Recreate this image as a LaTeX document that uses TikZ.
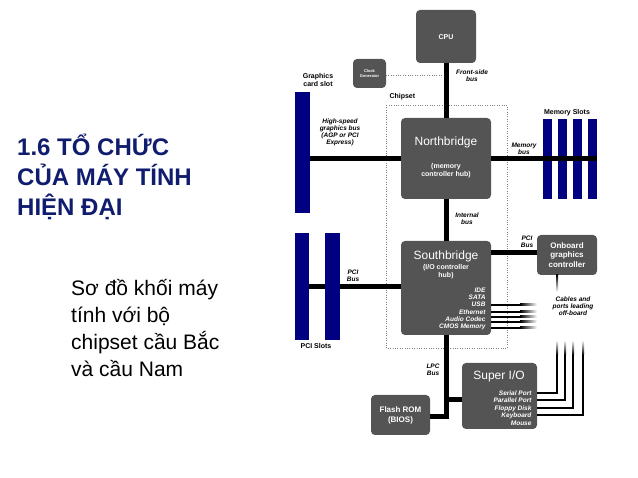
\documentclass[tikz,border=0pt]{standalone}
\usepackage{fontspec}
\setmainfont{Liberation Sans}
\begin{document}
\begin{tikzpicture}[x=1pt,y=-1pt,
  box/.style={fill=black!67,rounded corners=4pt,draw=none,text=white},
  slot/.style={fill=blue!50!black,draw=none},
  bus/.style={line width=5pt},
  thin/.style={line width=2pt},
  lab/.style={font=\fontsize{6.5}{7}\selectfont\itshape\bfseries,align=center},
  slab/.style={font=\fontsize{7}{8}\selectfont\bfseries,align=center}]
\useasboundingbox (0,0) rectangle (638,478);
% chipset region
\draw[dotted,gray] (386,105) rectangle (507,348);
\node[slab,anchor=west] (chip) at (386,97) {Chipset};
% boxes
\path[box] (416,10) rectangle (476,63); \node[text=white,slab] (cpu) at (446,37) {CPU};
\coordinate (cpub) at (446,63);
\path[box] (353,59) rectangle (386,88);
\node[text=white,font=\fontsize{4}{5}\selectfont\bfseries,align=center] (clk) at (369.5,73.5) {Clock\\Generator};
\draw[dotted,gray] (386,75) -- (446,75);
\path[box] (401,118) rectangle (491,199);
\node[text=white,font=\fontsize{12}{13}\selectfont] (nb) at (446,142) {Northbridge};
\node[text=white,font=\fontsize{7}{8}\selectfont\bfseries,align=center] (nbs) at (446,171) {(memory\\controller hub)};
\path[box] (401,241) rectangle (491,335);
\node[text=white,font=\fontsize{12}{13}\selectfont] (sb) at (446,256) {Southbridge};
\node[text=white,font=\fontsize{7}{8}\selectfont\bfseries,align=center] (sbs) at (446,272) {(I/O controller\\hub)};
\node[text=white,font=\fontsize{6.5}{7.3}\selectfont\itshape\bfseries,align=right,anchor=east] (sbl) at (489,309) {IDE\\SATA\\USB\\Ethernet\\Audio Codec\\CMOS Memory};
\path[box] (537,235) rectangle (597,275);
\node[text=white,font=\fontsize{8}{9.5}\selectfont\bfseries,align=center] (og) at (567,255) {Onboard\\graphics\\controller};
\path[box] (462,363) rectangle (537,429);
\node[text=white,font=\fontsize{12}{13}\selectfont] (sio) at (499,376) {Super I/O};
\node[text=white,font=\fontsize{6.5}{7.4}\selectfont\itshape\bfseries,align=right,anchor=east] (siol) at (535,408) {Serial Port\\Parallel Port\\Floppy Disk\\Keyboard\\Mouse};
\path[box] (371,395) rectangle (430,435);
\node[text=white,font=\fontsize{8}{10}\selectfont\bfseries,align=center] (fr) at (400.5,415) {Flash ROM\\(BIOS)};
% slots
\path[slot] (295,92) rectangle (310,213);
\foreach \x in {543,558,573,588} \path[slot] (\x,119) rectangle (\x+9,199);
\path[slot] (295,233) rectangle (309,340);
\path[slot] (325,233) rectangle (340,340);
% buses
\draw[bus] (446,63) -- (446,118);
\draw[bus] (446,199) -- (446,241);
\draw[bus] (310,159) -- (401,159);
\draw[bus] (491,159) -- (597,159);
\draw[bus] (309,287) -- (325,287) (340,287) -- (401,287);
\draw[bus] (491,253) -- (537,253);
\draw[bus] (446,335) -- (446,417) -- (430,417);
\draw[bus] (446,400) -- (462,400);
% cables
\foreach \y in {305,312,317,322,328} \draw[thin] (491,\y) -- (520,\y);
\foreach \y in {305,312,317,322,328} \shade[left color=black,right color=white] (520,\y-1) rectangle (537,\y+1);
\shade[top color=black,bottom color=white] (556,275) rectangle (558,292);
\foreach \x/\y in {557/393,565/400,573/408,583/415}{
  \draw[thin] (537,\y) -- (\x,\y) -- (\x,355);
  \shade[top color=white,bottom color=black] (\x-1,340) rectangle (\x+1,355);}
% labels
\node[slab] (gcs) at (318,80) {Graphics\\card slot};
\node[lab] (hs) at (340,132) {High-speed\\graphics bus\\(AGP or PCI\\Express)};
\node[lab] (fsb) at (472,76) {Front-side\\bus};
\node[slab] (ms) at (567,113) {Memory Slots};
\node[lab] (mb) at (524,149) {Memory\\bus};
\node[lab] (ib) at (467,219) {Internal\\bus};
\node[lab] (pb2) at (527,242) {PCI\\Bus};
\node[lab] (pb) at (353,276) {PCI\\Bus};
\node[slab] (pcs) at (316,346) {PCI Slots};
\node[lab] (cab) at (573,306) {Cables and\\ports leading\\off-board};
\node[lab] (lpc) at (433,370) {LPC\\Bus};
% left text
\node[anchor=north west,align=left,inner sep=0pt,text={rgb,255:red,16;green,28;blue,110},font=\fontsize{24}{30}\selectfont\bfseries] (title) at (17,134) {1.6 TỔ CHỨC\\CỦA MÁY TÍNH\\HIỆN ĐẠI};
\node[anchor=north west,align=left,inner sep=0pt,font=\fontsize{21}{27}\selectfont] (body) at (71,279) {Sơ đồ khối máy\\tính với bộ\\chipset cầu Bắc\\và cầu Nam};
\end{tikzpicture}
\end{document}
